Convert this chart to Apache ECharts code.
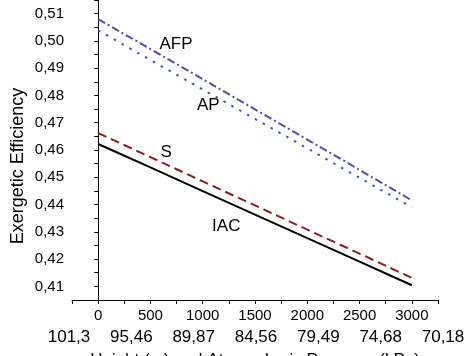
<!DOCTYPE html>
<html>
<head>
<meta charset="utf-8">
<script src="https://cdn.jsdelivr.net/npm/echarts@6/dist/echarts.min.js"></script>
<style>html,body{margin:0;padding:0;background:#fff}#c{width:474px;height:356px}</style>
</head>
<body>
<div id="c"></div>
<script>
var heights = [0, 500, 1000, 1500, 2000, 2500, 3000];
var pressures = ['101,3', '95,46', '89,87', '84,56', '79,49', '74,68', '70,18'];
var afp = [0.508, 0.497, 0.486, 0.4749, 0.4638, 0.4527, 0.4415];
var ap  = [0.5039, 0.4930, 0.4822, 0.4714, 0.4606, 0.4498, 0.4390];
var s   = [0.4662, 0.4574, 0.4485, 0.4397, 0.4308, 0.4220, 0.4131];
var iac = [0.4622, 0.4536, 0.4449, 0.4363, 0.4277, 0.4191, 0.4104];
var labelPos = { AFP: [745, 0.4986], AP: [1054, 0.4763], S: [650, 0.4590], IAC: [1225, 0.4319] };

var FONT = 'Liberation Sans';
function pairs(arr) { return heights.map(function (h, i) { return [h, arr[i]]; }); }
function mk(name) {
  return {
    symbol: 'circle', symbolSize: 0, silent: true,
    label: { show: true, position: 'inside', formatter: name, color: '#000', fontFamily: FONT, fontSize: 17 },
    data: [{ coord: labelPos[name] }]
  };
}
function line(name, data, color, type) {
  return {
    name: name, type: 'line', xAxisIndex: 0, yAxisIndex: 0, data: pairs(data),
    showSymbol: false, symbol: 'none', animation: false,
    lineStyle: { color: color, width: 2, type: type },
    markPoint: mk(name)
  };
}

var chart = echarts.init(document.getElementById('c'));
chart.setOption({
  animation: false,
  grid: [
    { left: 72, right: 36, top: 0, bottom: 56, containLabel: false, outerBoundsMode: 'none' },
    { left: 69, right: 31, top: 0, bottom: 56, containLabel: false, outerBoundsMode: 'none' }
  ],
  xAxis: [
    {
      type: 'value', gridIndex: 0, min: -250, max: 3250, interval: 250,
      axisLine: { show: true, lineStyle: { color: '#000', width: 1 } },
      axisTick: { show: true, length: 4, lineStyle: { color: '#000' } },
      splitLine: { show: false },
      axisLabel: {
        color: '#000', fontFamily: FONT, fontSize: 15, margin: 8,
        formatter: function (v) { var r = Math.round(v); return (r >= 0 && r % 500 === 0) ? String(r) : ''; }
      },
      name: 'Height (m) and Atmospheric Pressure (kPa)', nameLocation: 'middle', nameGap: 52,
      nameTextStyle: { color: '#000', fontFamily: FONT, fontSize: 17 }
    },
    {
      type: 'category', gridIndex: 1, data: pressures, boundaryGap: false,
      axisLine: { show: false }, axisTick: { show: false }, splitLine: { show: false },
      axisLabel: { interval: 0, color: '#000', fontFamily: FONT, fontSize: 17, margin: 29 }
    }
  ],
  yAxis: [
    {
      type: 'value', gridIndex: 0, min: 0.405, max: 0.515, interval: 0.005,
      axisLine: { show: true, lineStyle: { color: '#000', width: 1 } },
      axisTick: { show: true, length: 4, lineStyle: { color: '#000' } },
      splitLine: { show: false },
      axisLabel: {
        color: '#000', fontFamily: FONT, fontSize: 15, margin: 8,
        formatter: function (v) {
          var k = Math.round(v * 1000);
          if (k % 10 !== 0 || k < 410 || k > 510) return '';
          return (k / 1000).toFixed(2).replace('.', ',');
        }
      }
    },
    { type: 'value', gridIndex: 1, show: false, min: 0, max: 1 }
  ],
  graphic: [{
    type: 'text', x: 18, y: 166, rotation: Math.PI / 2,
    style: { text: 'Exergetic Efficiency', fill: '#000', font: '18px "Liberation Sans"', align: 'center', verticalAlign: 'middle' }
  }],
  series: [
    line('AFP', afp, '#5a4a9e', [8, 3, 2, 3]),
    line('AP', ap, '#3b58b8', [2.5, 6.5]),
    line('S', s, '#8b1a24', [9, 5]),
    line('IAC', iac, '#000000', 'solid')
  ]
});
</script>
</body>
</html>
